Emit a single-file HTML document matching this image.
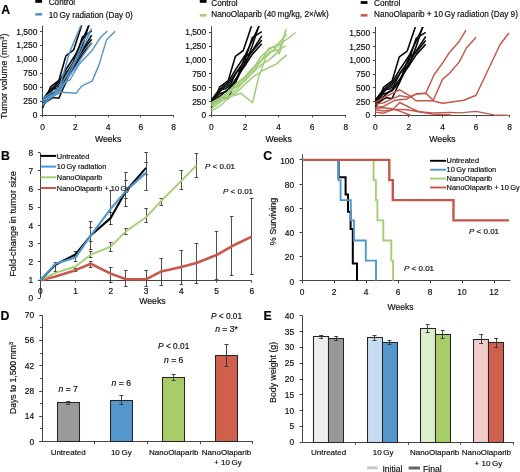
<!DOCTYPE html><html><head><meta charset="utf-8"><style>html,body{margin:0;padding:0;background:#fff;overflow:hidden}text{font-family:"Liberation Sans",sans-serif;stroke:#111;stroke-width:0.18px}</style></head><body><svg width="520" height="472" viewBox="0 0 520 472" style="display:block;filter:blur(0.4px);font-family:'Liberation Sans',sans-serif">
<rect width="520" height="472" fill="#fff"/>
<text x="1.20" y="13.60" font-size="12.3" text-anchor="start" font-weight="bold" font-style="normal" fill="#000" >A</text>
<text x="7.4" y="76.3" font-size="9.2" text-anchor="middle" fill="#111" transform="rotate(-90 7.4 76.3)">Tumor volume (mm<tspan font-size="5.8" dy="-3.2">3</tspan><tspan dy="3.2">)</tspan></text>
<clipPath id="clipA42"><rect x="40.5" y="25.5" width="140" height="92"/></clipPath>
<line x1="42.50" y1="115.40" x2="42.50" y2="25.50" stroke="#444" stroke-width="1"/>
<line x1="42.50" y1="115.50" x2="173.70" y2="115.50" stroke="#444" stroke-width="1"/>
<line x1="40.00" y1="115.50" x2="42.50" y2="115.50" stroke="#444" stroke-width="1"/>
<text x="37.30" y="118.40" font-size="8.4" text-anchor="end" font-weight="normal" font-style="normal" fill="#111" >0</text>
<line x1="40.00" y1="101.50" x2="42.50" y2="101.50" stroke="#444" stroke-width="1"/>
<text x="37.30" y="104.42" font-size="8.4" text-anchor="end" font-weight="normal" font-style="normal" fill="#111" >250</text>
<line x1="40.00" y1="87.50" x2="42.50" y2="87.50" stroke="#444" stroke-width="1"/>
<text x="37.30" y="90.43" font-size="8.4" text-anchor="end" font-weight="normal" font-style="normal" fill="#111" >500</text>
<line x1="40.00" y1="73.50" x2="42.50" y2="73.50" stroke="#444" stroke-width="1"/>
<text x="37.30" y="76.45" font-size="8.4" text-anchor="end" font-weight="normal" font-style="normal" fill="#111" >750</text>
<line x1="40.00" y1="59.50" x2="42.50" y2="59.50" stroke="#444" stroke-width="1"/>
<text x="37.30" y="62.47" font-size="8.4" text-anchor="end" font-weight="normal" font-style="normal" fill="#111" >1,000</text>
<line x1="40.00" y1="45.50" x2="42.50" y2="45.50" stroke="#444" stroke-width="1"/>
<text x="37.30" y="48.48" font-size="8.4" text-anchor="end" font-weight="normal" font-style="normal" fill="#111" >1,250</text>
<line x1="40.00" y1="31.50" x2="42.50" y2="31.50" stroke="#444" stroke-width="1"/>
<text x="37.30" y="34.50" font-size="8.4" text-anchor="end" font-weight="normal" font-style="normal" fill="#111" >1,500</text>
<line x1="42.50" y1="115.40" x2="42.50" y2="117.40" stroke="#444" stroke-width="1"/>
<text x="42.50" y="130.00" font-size="8.4" text-anchor="middle" font-weight="normal" font-style="normal" fill="#111" >0</text>
<line x1="75.50" y1="115.40" x2="75.50" y2="117.40" stroke="#444" stroke-width="1"/>
<text x="75.30" y="130.00" font-size="8.4" text-anchor="middle" font-weight="normal" font-style="normal" fill="#111" >2</text>
<line x1="108.50" y1="115.40" x2="108.50" y2="117.40" stroke="#444" stroke-width="1"/>
<text x="108.10" y="130.00" font-size="8.4" text-anchor="middle" font-weight="normal" font-style="normal" fill="#111" >4</text>
<line x1="140.50" y1="115.40" x2="140.50" y2="117.40" stroke="#444" stroke-width="1"/>
<text x="140.90" y="130.00" font-size="8.4" text-anchor="middle" font-weight="normal" font-style="normal" fill="#111" >6</text>
<line x1="173.50" y1="115.40" x2="173.50" y2="117.40" stroke="#444" stroke-width="1"/>
<text x="173.70" y="130.00" font-size="8.4" text-anchor="middle" font-weight="normal" font-style="normal" fill="#111" >8</text>
<text x="108.10" y="141.80" font-size="8.7" text-anchor="middle" font-weight="normal" font-style="normal" fill="#111" >Weeks</text>
<g clip-path="url(#clipA42)">
<polyline points="42.50,108.13 50.70,86.59 58.90,80.33 65.95,55.83 73.66,49.96 82.35,23.11" fill="none" stroke="#0a0a0a" stroke-width="1.6" stroke-linejoin="round" />
<polyline points="42.50,100.75 47.75,95.43 52.83,89.11 56.60,88.50 60.38,85.20 67.10,71.77 75.30,65.06 82.35,45.48 89.40,23.11" fill="none" stroke="#0a0a0a" stroke-width="1.6" stroke-linejoin="round" />
<polyline points="42.50,104.21 52.83,97.50 58.90,98.23 62.34,90.29 68.74,76.25 75.30,62.26 83.50,48.28 91.70,35.14" fill="none" stroke="#0a0a0a" stroke-width="1.6" stroke-linejoin="round" />
<polyline points="42.50,101.42 49.55,91.91 58.90,84.08 65.95,73.45 75.30,59.47 82.35,37.09 91.70,30.94" fill="none" stroke="#0a0a0a" stroke-width="1.6" stroke-linejoin="round" />
<polyline points="42.50,103.09 49.55,94.15 58.90,90.23 65.95,81.84 75.30,56.67 82.35,51.08 91.70,39.33" fill="none" stroke="#0a0a0a" stroke-width="1.6" stroke-linejoin="round" />
<polyline points="42.50,106.45 49.55,96.94 58.90,89.11 65.95,79.04 75.30,65.06 82.35,53.87 91.70,43.08" fill="none" stroke="#0a0a0a" stroke-width="1.6" stroke-linejoin="round" />
<polyline points="42.50,99.74 49.55,90.23 58.90,81.84 65.95,69.53 75.30,54.99 82.35,39.89 90.06,23.11" fill="none" stroke="#0a0a0a" stroke-width="1.6" stroke-linejoin="round" />
<polyline points="42.50,99.74 49.55,95.82 58.90,93.03 61.69,92.19 76.28,93.19 81.86,85.92 92.19,81.11 99.41,63.66 106.46,40.11 115.15,31.28" fill="none" stroke="#5393c8" stroke-width="1.4" stroke-linejoin="round" />
<polyline points="42.50,98.23 55.29,90.29 65.95,81.84 69.89,79.99 79.56,63.66 91.70,51.08 100.23,37.65 107.28,30.94" fill="none" stroke="#5393c8" stroke-width="1.4" stroke-linejoin="round" />
<polyline points="42.50,105.89 50.70,96.94 58.90,89.11 65.95,65.06 69.89,51.64 81.86,23.11" fill="none" stroke="#5393c8" stroke-width="1.4" stroke-linejoin="round" />
<polyline points="42.50,101.98 49.55,96.38 58.90,90.79 65.95,80.72 75.30,62.26 82.35,48.28 90.06,32.62" fill="none" stroke="#5393c8" stroke-width="1.4" stroke-linejoin="round" />
<polyline points="42.50,104.21 49.55,98.62 58.90,93.03 67.10,79.04 75.30,67.86 82.35,56.67 91.70,42.69" fill="none" stroke="#5393c8" stroke-width="1.4" stroke-linejoin="round" />
<polyline points="42.50,100.86 49.55,97.50 58.90,88.55 65.95,76.25 75.30,59.47 82.35,42.69 91.70,28.70" fill="none" stroke="#5393c8" stroke-width="1.4" stroke-linejoin="round" />
</g>
<rect x="35.3" y="0.0" width="6.8" height="2.8" fill="#000"/>
<text x="48.70" y="5.30" font-size="8.2" text-anchor="start" font-weight="normal" font-style="normal" fill="#111" >Control</text>
<rect x="35.3" y="13.1" width="6.8" height="2.5" fill="#5393c8"/>
<text x="48.70" y="17.60" font-size="8.2" text-anchor="start" font-weight="normal" font-style="normal" fill="#111" >10&#8201;Gy radiation (Day 0)</text>
<clipPath id="clipA211"><rect x="209.4" y="26.200000000000003" width="140" height="92"/></clipPath>
<line x1="211.50" y1="115.40" x2="211.50" y2="26.20" stroke="#444" stroke-width="1"/>
<line x1="211.40" y1="115.50" x2="345.80" y2="115.50" stroke="#444" stroke-width="1"/>
<line x1="208.90" y1="115.50" x2="211.40" y2="115.50" stroke="#444" stroke-width="1"/>
<text x="206.20" y="118.40" font-size="8.4" text-anchor="end" font-weight="normal" font-style="normal" fill="#111" >0</text>
<line x1="208.90" y1="101.50" x2="211.40" y2="101.50" stroke="#444" stroke-width="1"/>
<text x="206.20" y="104.53" font-size="8.4" text-anchor="end" font-weight="normal" font-style="normal" fill="#111" >250</text>
<line x1="208.90" y1="87.50" x2="211.40" y2="87.50" stroke="#444" stroke-width="1"/>
<text x="206.20" y="90.67" font-size="8.4" text-anchor="end" font-weight="normal" font-style="normal" fill="#111" >500</text>
<line x1="208.90" y1="73.50" x2="211.40" y2="73.50" stroke="#444" stroke-width="1"/>
<text x="206.20" y="76.80" font-size="8.4" text-anchor="end" font-weight="normal" font-style="normal" fill="#111" >750</text>
<line x1="208.90" y1="59.50" x2="211.40" y2="59.50" stroke="#444" stroke-width="1"/>
<text x="206.20" y="62.93" font-size="8.4" text-anchor="end" font-weight="normal" font-style="normal" fill="#111" >1,000</text>
<line x1="208.90" y1="46.50" x2="211.40" y2="46.50" stroke="#444" stroke-width="1"/>
<text x="206.20" y="49.07" font-size="8.4" text-anchor="end" font-weight="normal" font-style="normal" fill="#111" >1,250</text>
<line x1="208.90" y1="32.50" x2="211.40" y2="32.50" stroke="#444" stroke-width="1"/>
<text x="206.20" y="35.20" font-size="8.4" text-anchor="end" font-weight="normal" font-style="normal" fill="#111" >1,500</text>
<line x1="211.50" y1="115.40" x2="211.50" y2="117.40" stroke="#444" stroke-width="1"/>
<text x="211.40" y="130.00" font-size="8.4" text-anchor="middle" font-weight="normal" font-style="normal" fill="#111" >0</text>
<line x1="245.50" y1="115.40" x2="245.50" y2="117.40" stroke="#444" stroke-width="1"/>
<text x="245.00" y="130.00" font-size="8.4" text-anchor="middle" font-weight="normal" font-style="normal" fill="#111" >2</text>
<line x1="278.50" y1="115.40" x2="278.50" y2="117.40" stroke="#444" stroke-width="1"/>
<text x="278.60" y="130.00" font-size="8.4" text-anchor="middle" font-weight="normal" font-style="normal" fill="#111" >4</text>
<line x1="312.50" y1="115.40" x2="312.50" y2="117.40" stroke="#444" stroke-width="1"/>
<text x="312.20" y="130.00" font-size="8.4" text-anchor="middle" font-weight="normal" font-style="normal" fill="#111" >6</text>
<line x1="345.50" y1="115.40" x2="345.50" y2="117.40" stroke="#444" stroke-width="1"/>
<text x="345.80" y="130.00" font-size="8.4" text-anchor="middle" font-weight="normal" font-style="normal" fill="#111" >8</text>
<text x="278.60" y="141.80" font-size="8.7" text-anchor="middle" font-weight="normal" font-style="normal" fill="#111" >Weeks</text>
<g clip-path="url(#clipA211)">
<polyline points="211.40,108.19 219.80,86.83 228.20,80.62 235.42,56.33 243.32,50.50 252.22,23.88" fill="none" stroke="#0a0a0a" stroke-width="1.6" stroke-linejoin="round" />
<polyline points="211.40,100.87 216.78,95.60 221.98,89.33 225.85,88.72 229.71,85.45 236.60,72.14 245.00,65.48 252.22,46.07 259.45,23.88" fill="none" stroke="#0a0a0a" stroke-width="1.6" stroke-linejoin="round" />
<polyline points="211.40,104.31 221.98,97.65 228.20,98.37 231.73,90.50 238.28,76.57 245.00,62.71 253.40,48.84 261.80,35.81" fill="none" stroke="#0a0a0a" stroke-width="1.6" stroke-linejoin="round" />
<polyline points="211.40,101.53 218.62,92.10 228.20,84.34 235.42,73.80 245.00,59.93 252.22,37.75 261.80,31.65" fill="none" stroke="#0a0a0a" stroke-width="1.6" stroke-linejoin="round" />
<polyline points="211.40,103.20 218.62,94.32 228.20,90.44 235.42,82.12 245.00,57.16 252.22,51.61 261.80,39.97" fill="none" stroke="#0a0a0a" stroke-width="1.6" stroke-linejoin="round" />
<polyline points="211.40,106.53 218.62,97.10 228.20,89.33 235.42,79.35 245.00,65.48 252.22,54.39 261.80,43.68" fill="none" stroke="#0a0a0a" stroke-width="1.6" stroke-linejoin="round" />
<polyline points="211.40,99.87 218.62,90.44 228.20,82.12 235.42,69.92 245.00,55.50 252.22,40.52 260.12,23.88" fill="none" stroke="#0a0a0a" stroke-width="1.6" stroke-linejoin="round" />
<polyline points="211.40,104.03 219.80,99.31 228.20,96.54 233.24,95.76 240.97,93.32 252.56,102.75 258.44,78.07 265.66,57.44 276.58,46.79 295.74,32.48" fill="none" stroke="#a2cd78" stroke-width="1.5" stroke-linejoin="round" />
<polyline points="211.40,106.36 219.80,100.98 229.38,90.11 235.26,87.61 245.00,81.01 253.40,71.03 261.80,59.93 268.52,48.56 273.90,46.79 279.27,53.94 285.66,30.65" fill="none" stroke="#a2cd78" stroke-width="1.5" stroke-linejoin="round" />
<polyline points="211.40,111.02 219.80,105.97 228.20,98.76 236.60,92.10 245.00,84.34 253.40,76.57 261.80,71.03 276.58,63.82 286.66,54.83" fill="none" stroke="#a2cd78" stroke-width="1.5" stroke-linejoin="round" />
<polyline points="211.40,102.64 218.62,98.76 228.20,92.10 235.42,84.34 245.00,76.57 252.22,68.25 261.80,59.93 270.20,51.61 278.60,49.95 285.66,45.90" fill="none" stroke="#a2cd78" stroke-width="1.5" stroke-linejoin="round" />
<polyline points="211.40,105.42 218.62,100.42 228.20,94.32 235.42,86.56 245.00,77.68 252.22,69.92 261.80,55.50 270.20,48.84 278.60,43.29 286.66,34.25" fill="none" stroke="#a2cd78" stroke-width="1.5" stroke-linejoin="round" />
<polyline points="211.40,108.74 218.62,103.20 228.20,97.10 235.42,90.44 245.00,79.90 252.22,73.25 261.80,64.37 269.02,59.93 278.60,51.61 286.33,29.15" fill="none" stroke="#a2cd78" stroke-width="1.5" stroke-linejoin="round" />
</g>
<rect x="199.8" y="0.0" width="6.8" height="2.8" fill="#000"/>
<text x="211.30" y="5.60" font-size="8.2" text-anchor="start" font-weight="normal" font-style="normal" fill="#111" >Control</text>
<rect x="199.8" y="14.1" width="6.8" height="2.5" fill="#a2cd78"/>
<text x="211.30" y="17.30" font-size="8.2" text-anchor="start" font-weight="normal" font-style="normal" fill="#111" >NanoOlaparib (40&#8201;mg/kg, 2×/wk)</text>
<clipPath id="clipA375"><rect x="373.3" y="26.9" width="140" height="92"/></clipPath>
<line x1="375.50" y1="115.40" x2="375.50" y2="26.90" stroke="#444" stroke-width="1"/>
<line x1="375.30" y1="115.50" x2="509.70" y2="115.50" stroke="#444" stroke-width="1"/>
<line x1="372.80" y1="115.50" x2="375.30" y2="115.50" stroke="#444" stroke-width="1"/>
<text x="370.10" y="118.40" font-size="8.4" text-anchor="end" font-weight="normal" font-style="normal" fill="#111" >0</text>
<line x1="372.80" y1="101.50" x2="375.30" y2="101.50" stroke="#444" stroke-width="1"/>
<text x="370.10" y="104.65" font-size="8.4" text-anchor="end" font-weight="normal" font-style="normal" fill="#111" >250</text>
<line x1="372.80" y1="87.50" x2="375.30" y2="87.50" stroke="#444" stroke-width="1"/>
<text x="370.10" y="90.90" font-size="8.4" text-anchor="end" font-weight="normal" font-style="normal" fill="#111" >500</text>
<line x1="372.80" y1="74.50" x2="375.30" y2="74.50" stroke="#444" stroke-width="1"/>
<text x="370.10" y="77.15" font-size="8.4" text-anchor="end" font-weight="normal" font-style="normal" fill="#111" >750</text>
<line x1="372.80" y1="60.50" x2="375.30" y2="60.50" stroke="#444" stroke-width="1"/>
<text x="370.10" y="63.40" font-size="8.4" text-anchor="end" font-weight="normal" font-style="normal" fill="#111" >1,000</text>
<line x1="372.80" y1="46.50" x2="375.30" y2="46.50" stroke="#444" stroke-width="1"/>
<text x="370.10" y="49.65" font-size="8.4" text-anchor="end" font-weight="normal" font-style="normal" fill="#111" >1,250</text>
<line x1="372.80" y1="32.50" x2="375.30" y2="32.50" stroke="#444" stroke-width="1"/>
<text x="370.10" y="35.90" font-size="8.4" text-anchor="end" font-weight="normal" font-style="normal" fill="#111" >1,500</text>
<line x1="375.50" y1="115.40" x2="375.50" y2="117.40" stroke="#444" stroke-width="1"/>
<text x="375.30" y="130.00" font-size="8.4" text-anchor="middle" font-weight="normal" font-style="normal" fill="#111" >0</text>
<line x1="408.50" y1="115.40" x2="408.50" y2="117.40" stroke="#444" stroke-width="1"/>
<text x="408.90" y="130.00" font-size="8.4" text-anchor="middle" font-weight="normal" font-style="normal" fill="#111" >2</text>
<line x1="442.50" y1="115.40" x2="442.50" y2="117.40" stroke="#444" stroke-width="1"/>
<text x="442.50" y="130.00" font-size="8.4" text-anchor="middle" font-weight="normal" font-style="normal" fill="#111" >4</text>
<line x1="476.50" y1="115.40" x2="476.50" y2="117.40" stroke="#444" stroke-width="1"/>
<text x="476.10" y="130.00" font-size="8.4" text-anchor="middle" font-weight="normal" font-style="normal" fill="#111" >6</text>
<line x1="509.50" y1="115.40" x2="509.50" y2="117.40" stroke="#444" stroke-width="1"/>
<text x="509.70" y="130.00" font-size="8.4" text-anchor="middle" font-weight="normal" font-style="normal" fill="#111" >8</text>
<text x="442.50" y="141.80" font-size="8.7" text-anchor="middle" font-weight="normal" font-style="normal" fill="#111" >Weeks</text>
<g clip-path="url(#clipA375)">
<polyline points="375.30,108.25 383.70,87.08 392.10,80.92 399.32,56.83 407.22,51.05 416.12,24.65" fill="none" stroke="#0a0a0a" stroke-width="1.6" stroke-linejoin="round" />
<polyline points="375.30,100.99 380.68,95.77 385.88,89.55 389.75,88.95 393.61,85.70 400.50,72.50 408.90,65.90 416.12,46.65 423.35,24.65" fill="none" stroke="#0a0a0a" stroke-width="1.6" stroke-linejoin="round" />
<polyline points="375.30,104.40 385.88,97.80 392.10,98.52 395.63,90.71 402.18,76.90 408.90,63.15 417.30,49.40 425.70,36.48" fill="none" stroke="#0a0a0a" stroke-width="1.6" stroke-linejoin="round" />
<polyline points="375.30,101.65 382.52,92.30 392.10,84.60 399.32,74.15 408.90,60.40 416.12,38.40 425.70,32.35" fill="none" stroke="#0a0a0a" stroke-width="1.6" stroke-linejoin="round" />
<polyline points="375.30,103.30 382.52,94.50 392.10,90.65 399.32,82.40 408.90,57.65 416.12,52.15 425.70,40.60" fill="none" stroke="#0a0a0a" stroke-width="1.6" stroke-linejoin="round" />
<polyline points="375.30,106.60 382.52,97.25 392.10,89.55 399.32,79.65 408.90,65.90 416.12,54.90 425.70,44.29" fill="none" stroke="#0a0a0a" stroke-width="1.6" stroke-linejoin="round" />
<polyline points="375.30,100.00 382.52,90.65 392.10,82.40 399.32,70.30 408.90,56.00 416.12,41.15 424.02,24.65" fill="none" stroke="#0a0a0a" stroke-width="1.6" stroke-linejoin="round" />
<polyline points="375.30,107.15 383.36,106.44 395.29,100.17 407.05,98.96 416.46,93.84 425.70,93.24 434.10,74.75 442.50,63.15 449.72,52.15 459.30,41.15 466.02,30.15" fill="none" stroke="#c4564b" stroke-width="1.45" stroke-linejoin="round" />
<polyline points="375.30,104.40 383.70,102.75 392.10,98.90 399.66,95.60 408.90,97.25 416.46,93.95 425.70,93.24 433.26,100.28 442.50,79.38 449.72,73.05 459.30,61.89 466.52,47.75 476.10,37.14" fill="none" stroke="#c4564b" stroke-width="1.45" stroke-linejoin="round" />
<polyline points="375.30,102.48 385.72,96.70 399.66,89.77 411.08,96.70 415.79,100.77 432.42,100.77 442.84,103.25 463.84,100.22 476.10,95.22 499.96,44.73 508.86,33.01" fill="none" stroke="#c4564b" stroke-width="1.45" stroke-linejoin="round" />
<polyline points="375.30,109.79 383.70,111.00 395.29,109.35 407.05,109.79 418.98,111.72 432.42,112.87 449.72,112.38 459.97,112.87 476.10,111.39 493.91,114.91 508.86,115.40" fill="none" stroke="#c4564b" stroke-width="1.45" stroke-linejoin="round" />
<polyline points="375.30,112.10 383.70,113.20 392.10,109.90 399.66,102.48 411.08,108.09 418.98,111.72 432.42,114.03 450.90,114.85" fill="none" stroke="#c4564b" stroke-width="1.45" stroke-linejoin="round" />
<polyline points="375.30,108.25 383.70,107.70 392.10,108.80 399.66,111.17 407.05,113.97 411.08,115.40" fill="none" stroke="#c4564b" stroke-width="1.45" stroke-linejoin="round" />
</g>
<rect x="360.7" y="1.1" width="6.8" height="2.8" fill="#000"/>
<text x="374.00" y="6.20" font-size="8.2" text-anchor="start" font-weight="normal" font-style="normal" fill="#111" >Control</text>
<rect x="360.7" y="14.1" width="6.8" height="2.5" fill="#c4564b"/>
<text x="374.00" y="17.30" font-size="8.2" text-anchor="start" font-weight="normal" font-style="normal" fill="#111" >NanoOlaparib + 10&#8201;Gy radiation (Day 9)</text>
<text x="1.00" y="159.60" font-size="12.3" text-anchor="start" font-weight="bold" font-style="normal" fill="#000" >B</text>
<line x1="40.50" y1="297.80" x2="40.50" y2="153.00" stroke="#444" stroke-width="1"/>
<line x1="37.80" y1="298.50" x2="40.30" y2="298.50" stroke="#444" stroke-width="1"/>
<text x="30.90" y="301.43" font-size="8.4" text-anchor="middle" font-weight="normal" font-style="normal" fill="#111" >0</text>
<line x1="37.80" y1="280.50" x2="40.30" y2="280.50" stroke="#444" stroke-width="1"/>
<text x="30.90" y="283.20" font-size="8.4" text-anchor="middle" font-weight="normal" font-style="normal" fill="#111" >1</text>
<line x1="37.80" y1="261.50" x2="40.30" y2="261.50" stroke="#444" stroke-width="1"/>
<text x="30.90" y="264.97" font-size="8.4" text-anchor="middle" font-weight="normal" font-style="normal" fill="#111" >2</text>
<line x1="37.80" y1="243.50" x2="40.30" y2="243.50" stroke="#444" stroke-width="1"/>
<text x="30.90" y="246.74" font-size="8.4" text-anchor="middle" font-weight="normal" font-style="normal" fill="#111" >3</text>
<line x1="37.80" y1="225.50" x2="40.30" y2="225.50" stroke="#444" stroke-width="1"/>
<text x="30.90" y="228.51" font-size="8.4" text-anchor="middle" font-weight="normal" font-style="normal" fill="#111" >4</text>
<line x1="37.80" y1="207.50" x2="40.30" y2="207.50" stroke="#444" stroke-width="1"/>
<text x="30.90" y="210.28" font-size="8.4" text-anchor="middle" font-weight="normal" font-style="normal" fill="#111" >5</text>
<line x1="37.80" y1="189.50" x2="40.30" y2="189.50" stroke="#444" stroke-width="1"/>
<text x="30.90" y="192.05" font-size="8.4" text-anchor="middle" font-weight="normal" font-style="normal" fill="#111" >6</text>
<line x1="37.80" y1="170.50" x2="40.30" y2="170.50" stroke="#444" stroke-width="1"/>
<text x="30.90" y="173.82" font-size="8.4" text-anchor="middle" font-weight="normal" font-style="normal" fill="#111" >7</text>
<line x1="37.80" y1="152.50" x2="40.30" y2="152.50" stroke="#444" stroke-width="1"/>
<text x="30.90" y="155.59" font-size="8.4" text-anchor="middle" font-weight="normal" font-style="normal" fill="#111" >8</text>
<line x1="40.30" y1="280.50" x2="251.80" y2="280.50" stroke="#444" stroke-width="1"/>
<line x1="40.50" y1="280.20" x2="40.50" y2="282.70" stroke="#444" stroke-width="1"/>
<text x="40.30" y="294.40" font-size="8.4" text-anchor="middle" font-weight="normal" font-style="normal" fill="#111" >0</text>
<line x1="75.50" y1="280.20" x2="75.50" y2="282.70" stroke="#444" stroke-width="1"/>
<text x="75.55" y="294.40" font-size="8.4" text-anchor="middle" font-weight="normal" font-style="normal" fill="#111" >1</text>
<line x1="110.50" y1="280.20" x2="110.50" y2="282.70" stroke="#444" stroke-width="1"/>
<text x="110.80" y="294.40" font-size="8.4" text-anchor="middle" font-weight="normal" font-style="normal" fill="#111" >2</text>
<line x1="146.50" y1="280.20" x2="146.50" y2="282.70" stroke="#444" stroke-width="1"/>
<text x="146.05" y="294.40" font-size="8.4" text-anchor="middle" font-weight="normal" font-style="normal" fill="#111" >3</text>
<line x1="181.50" y1="280.20" x2="181.50" y2="282.70" stroke="#444" stroke-width="1"/>
<text x="181.30" y="294.40" font-size="8.4" text-anchor="middle" font-weight="normal" font-style="normal" fill="#111" >4</text>
<line x1="216.50" y1="280.20" x2="216.50" y2="282.70" stroke="#444" stroke-width="1"/>
<text x="216.55" y="294.40" font-size="8.4" text-anchor="middle" font-weight="normal" font-style="normal" fill="#111" >5</text>
<line x1="251.50" y1="280.20" x2="251.50" y2="282.70" stroke="#444" stroke-width="1"/>
<text x="251.80" y="294.40" font-size="8.4" text-anchor="middle" font-weight="normal" font-style="normal" fill="#111" >6</text>
<text x="152.40" y="304.10" font-size="8.7" text-anchor="middle" font-weight="normal" font-style="normal" fill="#111" >Weeks</text>
<text x="15.8" y="224" font-size="9.2" text-anchor="middle" fill="#111" transform="rotate(-90 15.8 224)">Fold-change in tumor size</text>
<line x1="75.50" y1="268.35" x2="75.50" y2="272.00" stroke="#3a3a3a" stroke-width="0.9"/>
<line x1="73.75" y1="268.50" x2="77.35" y2="268.50" stroke="#3a3a3a" stroke-width="0.9"/>
<line x1="73.75" y1="271.50" x2="77.35" y2="271.50" stroke="#3a3a3a" stroke-width="0.9"/>
<line x1="90.50" y1="261.06" x2="90.50" y2="267.80" stroke="#3a3a3a" stroke-width="0.9"/>
<line x1="88.91" y1="261.50" x2="92.51" y2="261.50" stroke="#3a3a3a" stroke-width="0.9"/>
<line x1="88.91" y1="267.50" x2="92.51" y2="267.50" stroke="#3a3a3a" stroke-width="0.9"/>
<line x1="110.50" y1="267.07" x2="110.50" y2="282.02" stroke="#3a3a3a" stroke-width="0.9"/>
<line x1="109.00" y1="267.50" x2="112.60" y2="267.50" stroke="#3a3a3a" stroke-width="0.9"/>
<line x1="109.00" y1="282.50" x2="112.60" y2="282.50" stroke="#3a3a3a" stroke-width="0.9"/>
<line x1="125.50" y1="270.17" x2="125.50" y2="286.95" stroke="#3a3a3a" stroke-width="0.9"/>
<line x1="124.16" y1="270.50" x2="127.76" y2="270.50" stroke="#3a3a3a" stroke-width="0.9"/>
<line x1="124.16" y1="286.50" x2="127.76" y2="286.50" stroke="#3a3a3a" stroke-width="0.9"/>
<line x1="146.50" y1="270.17" x2="146.50" y2="286.95" stroke="#3a3a3a" stroke-width="0.9"/>
<line x1="144.25" y1="270.50" x2="147.85" y2="270.50" stroke="#3a3a3a" stroke-width="0.9"/>
<line x1="144.25" y1="286.50" x2="147.85" y2="286.50" stroke="#3a3a3a" stroke-width="0.9"/>
<line x1="161.50" y1="258.69" x2="161.50" y2="285.67" stroke="#3a3a3a" stroke-width="0.9"/>
<line x1="159.41" y1="258.50" x2="163.01" y2="258.50" stroke="#3a3a3a" stroke-width="0.9"/>
<line x1="159.41" y1="285.50" x2="163.01" y2="285.50" stroke="#3a3a3a" stroke-width="0.9"/>
<line x1="181.50" y1="250.49" x2="181.50" y2="284.76" stroke="#3a3a3a" stroke-width="0.9"/>
<line x1="179.50" y1="250.50" x2="183.10" y2="250.50" stroke="#3a3a3a" stroke-width="0.9"/>
<line x1="179.50" y1="284.50" x2="183.10" y2="284.50" stroke="#3a3a3a" stroke-width="0.9"/>
<line x1="196.50" y1="243.74" x2="196.50" y2="283.85" stroke="#3a3a3a" stroke-width="0.9"/>
<line x1="194.66" y1="243.50" x2="198.26" y2="243.50" stroke="#3a3a3a" stroke-width="0.9"/>
<line x1="194.66" y1="283.50" x2="198.26" y2="283.50" stroke="#3a3a3a" stroke-width="0.9"/>
<line x1="216.50" y1="231.34" x2="216.50" y2="279.29" stroke="#3a3a3a" stroke-width="0.9"/>
<line x1="214.75" y1="231.50" x2="218.35" y2="231.50" stroke="#3a3a3a" stroke-width="0.9"/>
<line x1="214.75" y1="279.50" x2="218.35" y2="279.50" stroke="#3a3a3a" stroke-width="0.9"/>
<line x1="231.50" y1="216.76" x2="231.50" y2="275.64" stroke="#3a3a3a" stroke-width="0.9"/>
<line x1="229.91" y1="216.50" x2="233.51" y2="216.50" stroke="#3a3a3a" stroke-width="0.9"/>
<line x1="229.91" y1="275.50" x2="233.51" y2="275.50" stroke="#3a3a3a" stroke-width="0.9"/>
<line x1="251.50" y1="198.35" x2="251.50" y2="274.73" stroke="#3a3a3a" stroke-width="0.9"/>
<line x1="250.00" y1="198.50" x2="253.60" y2="198.50" stroke="#3a3a3a" stroke-width="0.9"/>
<line x1="250.00" y1="274.50" x2="253.60" y2="274.50" stroke="#3a3a3a" stroke-width="0.9"/>
<line x1="90.50" y1="251.94" x2="90.50" y2="257.41" stroke="#3a3a3a" stroke-width="0.9"/>
<line x1="88.91" y1="251.50" x2="92.51" y2="251.50" stroke="#3a3a3a" stroke-width="0.9"/>
<line x1="88.91" y1="257.50" x2="92.51" y2="257.50" stroke="#3a3a3a" stroke-width="0.9"/>
<line x1="110.50" y1="242.28" x2="110.50" y2="251.03" stroke="#3a3a3a" stroke-width="0.9"/>
<line x1="109.00" y1="242.50" x2="112.60" y2="242.50" stroke="#3a3a3a" stroke-width="0.9"/>
<line x1="109.00" y1="251.50" x2="112.60" y2="251.50" stroke="#3a3a3a" stroke-width="0.9"/>
<line x1="125.50" y1="228.24" x2="125.50" y2="234.62" stroke="#3a3a3a" stroke-width="0.9"/>
<line x1="124.16" y1="228.50" x2="127.76" y2="228.50" stroke="#3a3a3a" stroke-width="0.9"/>
<line x1="124.16" y1="234.50" x2="127.76" y2="234.50" stroke="#3a3a3a" stroke-width="0.9"/>
<line x1="146.50" y1="208.74" x2="146.50" y2="222.78" stroke="#3a3a3a" stroke-width="0.9"/>
<line x1="144.25" y1="208.50" x2="147.85" y2="208.50" stroke="#3a3a3a" stroke-width="0.9"/>
<line x1="144.25" y1="222.50" x2="147.85" y2="222.50" stroke="#3a3a3a" stroke-width="0.9"/>
<line x1="161.50" y1="198.16" x2="161.50" y2="205.46" stroke="#3a3a3a" stroke-width="0.9"/>
<line x1="159.41" y1="198.50" x2="163.01" y2="198.50" stroke="#3a3a3a" stroke-width="0.9"/>
<line x1="159.41" y1="205.50" x2="163.01" y2="205.50" stroke="#3a3a3a" stroke-width="0.9"/>
<line x1="181.50" y1="170.82" x2="181.50" y2="189.05" stroke="#3a3a3a" stroke-width="0.9"/>
<line x1="179.50" y1="170.50" x2="183.10" y2="170.50" stroke="#3a3a3a" stroke-width="0.9"/>
<line x1="179.50" y1="189.50" x2="183.10" y2="189.50" stroke="#3a3a3a" stroke-width="0.9"/>
<line x1="196.50" y1="153.32" x2="196.50" y2="177.02" stroke="#3a3a3a" stroke-width="0.9"/>
<line x1="194.66" y1="153.50" x2="198.26" y2="153.50" stroke="#3a3a3a" stroke-width="0.9"/>
<line x1="194.66" y1="177.50" x2="198.26" y2="177.50" stroke="#3a3a3a" stroke-width="0.9"/>
<line x1="55.50" y1="262.88" x2="55.50" y2="272.00" stroke="#3a3a3a" stroke-width="0.9"/>
<line x1="53.66" y1="262.50" x2="57.26" y2="262.50" stroke="#3a3a3a" stroke-width="0.9"/>
<line x1="53.66" y1="271.50" x2="57.26" y2="271.50" stroke="#3a3a3a" stroke-width="0.9"/>
<line x1="75.50" y1="251.03" x2="75.50" y2="261.97" stroke="#3a3a3a" stroke-width="0.9"/>
<line x1="73.75" y1="251.50" x2="77.35" y2="251.50" stroke="#3a3a3a" stroke-width="0.9"/>
<line x1="73.75" y1="261.50" x2="77.35" y2="261.50" stroke="#3a3a3a" stroke-width="0.9"/>
<line x1="90.50" y1="221.86" x2="90.50" y2="249.21" stroke="#3a3a3a" stroke-width="0.9"/>
<line x1="88.91" y1="221.50" x2="92.51" y2="221.50" stroke="#3a3a3a" stroke-width="0.9"/>
<line x1="88.91" y1="249.50" x2="92.51" y2="249.50" stroke="#3a3a3a" stroke-width="0.9"/>
<line x1="110.50" y1="190.87" x2="110.50" y2="224.60" stroke="#3a3a3a" stroke-width="0.9"/>
<line x1="109.00" y1="190.50" x2="112.60" y2="190.50" stroke="#3a3a3a" stroke-width="0.9"/>
<line x1="109.00" y1="224.50" x2="112.60" y2="224.50" stroke="#3a3a3a" stroke-width="0.9"/>
<line x1="125.50" y1="172.64" x2="125.50" y2="206.55" stroke="#3a3a3a" stroke-width="0.9"/>
<line x1="124.16" y1="172.50" x2="127.76" y2="172.50" stroke="#3a3a3a" stroke-width="0.9"/>
<line x1="124.16" y1="206.50" x2="127.76" y2="206.50" stroke="#3a3a3a" stroke-width="0.9"/>
<line x1="146.50" y1="152.59" x2="146.50" y2="190.14" stroke="#3a3a3a" stroke-width="0.9"/>
<line x1="144.25" y1="152.50" x2="147.85" y2="152.50" stroke="#3a3a3a" stroke-width="0.9"/>
<line x1="144.25" y1="190.50" x2="147.85" y2="190.50" stroke="#3a3a3a" stroke-width="0.9"/>
<line x1="109.00" y1="212.50" x2="112.60" y2="212.50" stroke="#3a3a3a" stroke-width="0.9"/>
<line x1="124.16" y1="180.50" x2="127.76" y2="180.50" stroke="#3a3a3a" stroke-width="0.9"/>
<line x1="124.16" y1="198.50" x2="127.76" y2="198.50" stroke="#3a3a3a" stroke-width="0.9"/>
<line x1="144.25" y1="162.50" x2="147.85" y2="162.50" stroke="#3a3a3a" stroke-width="0.9"/>
<line x1="144.25" y1="174.50" x2="147.85" y2="174.50" stroke="#3a3a3a" stroke-width="0.9"/>
<line x1="88.91" y1="241.50" x2="92.51" y2="241.50" stroke="#3a3a3a" stroke-width="0.9"/>
<line x1="88.91" y1="227.50" x2="92.51" y2="227.50" stroke="#3a3a3a" stroke-width="0.9"/>
<line x1="73.75" y1="256.50" x2="77.35" y2="256.50" stroke="#3a3a3a" stroke-width="0.9"/>
<polyline points="40.30,280.20 55.46,276.55 75.55,270.17 90.71,263.79 110.80,273.64 125.96,279.29 146.05,279.29 161.21,271.45 181.30,267.07 196.46,263.06 216.55,255.04 231.71,246.29 251.80,236.63" fill="none" stroke="#c9574a" stroke-width="2.6" stroke-linejoin="round" />
<polyline points="40.30,280.20 55.46,272.91 75.55,266.53 90.71,254.68 110.80,246.66 125.96,231.34 146.05,217.31 161.21,200.90 181.30,180.85 196.46,165.35" fill="none" stroke="#a3cf72" stroke-width="1.9" stroke-linejoin="round" />
<polyline points="40.30,280.20 55.46,264.70 75.55,254.31 90.71,235.54 110.80,217.85 125.96,190.87 146.05,167.90" fill="none" stroke="#000" stroke-width="2.1" stroke-linejoin="round" />
<polyline points="40.30,280.20 55.46,263.79 75.55,257.41 90.71,235.54 110.80,208.74 125.96,190.87 146.05,172.64" fill="none" stroke="#4f97cf" stroke-width="2.1" stroke-linejoin="round" />
<line x1="40.60" y1="155.90" x2="56.20" y2="155.90" stroke="#000" stroke-width="2.0"/>
<text x="56.80" y="158.60" font-size="7.4" text-anchor="start" font-weight="normal" font-style="normal" fill="#111" >Untreated</text>
<line x1="40.60" y1="166.60" x2="56.20" y2="166.60" stroke="#4f97cf" stroke-width="2.0"/>
<text x="56.80" y="169.30" font-size="7.4" text-anchor="start" font-weight="normal" font-style="normal" fill="#111" >10&#8201;Gy radiation</text>
<line x1="40.60" y1="177.30" x2="56.20" y2="177.30" stroke="#a3cf72" stroke-width="2.0"/>
<text x="56.80" y="180.00" font-size="7.4" text-anchor="start" font-weight="normal" font-style="normal" fill="#111" >NanoOlaparib</text>
<line x1="40.60" y1="188.00" x2="56.20" y2="188.00" stroke="#c9574a" stroke-width="2.0"/>
<text x="56.80" y="190.70" font-size="7.4" text-anchor="start" font-weight="normal" font-style="normal" fill="#111" >NanoOlaparib + 10&#8201;Gy</text>
<text x="205.00" y="169.00" font-size="8.0" text-anchor="start" font-weight="normal" font-style="normal" fill="#111" ><tspan font-style="italic">P</tspan> &lt; 0.01</text>
<text x="223.00" y="193.80" font-size="8.0" text-anchor="start" font-weight="normal" font-style="normal" fill="#111" ><tspan font-style="italic">P</tspan> &lt; 0.01</text>
<text x="263.20" y="160.20" font-size="12.3" text-anchor="start" font-weight="bold" font-style="normal" fill="#000" >C</text>
<line x1="302.50" y1="280.80" x2="302.50" y2="154.30" stroke="#444" stroke-width="1"/>
<line x1="299.50" y1="280.50" x2="302.00" y2="280.50" stroke="#444" stroke-width="1"/>
<text x="294.20" y="284.60" font-size="8.4" text-anchor="end" font-weight="normal" font-style="normal" fill="#111" >0</text>
<line x1="299.50" y1="256.50" x2="302.00" y2="256.50" stroke="#444" stroke-width="1"/>
<text x="294.20" y="260.42" font-size="8.4" text-anchor="end" font-weight="normal" font-style="normal" fill="#111" >20</text>
<line x1="299.50" y1="232.50" x2="302.00" y2="232.50" stroke="#444" stroke-width="1"/>
<text x="294.20" y="236.24" font-size="8.4" text-anchor="end" font-weight="normal" font-style="normal" fill="#111" >40</text>
<line x1="299.50" y1="208.50" x2="302.00" y2="208.50" stroke="#444" stroke-width="1"/>
<text x="294.20" y="212.06" font-size="8.4" text-anchor="end" font-weight="normal" font-style="normal" fill="#111" >60</text>
<line x1="299.50" y1="184.50" x2="302.00" y2="184.50" stroke="#444" stroke-width="1"/>
<text x="294.20" y="187.88" font-size="8.4" text-anchor="end" font-weight="normal" font-style="normal" fill="#111" >80</text>
<line x1="299.50" y1="159.50" x2="302.00" y2="159.50" stroke="#444" stroke-width="1"/>
<text x="294.20" y="163.70" font-size="8.4" text-anchor="end" font-weight="normal" font-style="normal" fill="#111" >100</text>
<line x1="302.00" y1="280.50" x2="510.50" y2="280.50" stroke="#444" stroke-width="1"/>
<line x1="302.50" y1="280.80" x2="302.50" y2="283.30" stroke="#444" stroke-width="1"/>
<text x="302.00" y="294.90" font-size="8.4" text-anchor="middle" font-weight="normal" font-style="normal" fill="#111" >0</text>
<line x1="334.50" y1="280.80" x2="334.50" y2="283.30" stroke="#444" stroke-width="1"/>
<text x="334.00" y="294.90" font-size="8.4" text-anchor="middle" font-weight="normal" font-style="normal" fill="#111" >2</text>
<line x1="366.50" y1="280.80" x2="366.50" y2="283.30" stroke="#444" stroke-width="1"/>
<text x="366.00" y="294.90" font-size="8.4" text-anchor="middle" font-weight="normal" font-style="normal" fill="#111" >4</text>
<line x1="398.50" y1="280.80" x2="398.50" y2="283.30" stroke="#444" stroke-width="1"/>
<text x="398.00" y="294.90" font-size="8.4" text-anchor="middle" font-weight="normal" font-style="normal" fill="#111" >6</text>
<line x1="430.50" y1="280.80" x2="430.50" y2="283.30" stroke="#444" stroke-width="1"/>
<text x="430.00" y="294.90" font-size="8.4" text-anchor="middle" font-weight="normal" font-style="normal" fill="#111" >8</text>
<line x1="462.50" y1="280.80" x2="462.50" y2="283.30" stroke="#444" stroke-width="1"/>
<text x="462.00" y="294.90" font-size="8.4" text-anchor="middle" font-weight="normal" font-style="normal" fill="#111" >10</text>
<line x1="494.50" y1="280.80" x2="494.50" y2="283.30" stroke="#444" stroke-width="1"/>
<text x="494.00" y="294.90" font-size="8.4" text-anchor="middle" font-weight="normal" font-style="normal" fill="#111" >12</text>
<text x="400.50" y="309.50" font-size="8.6" text-anchor="middle" font-weight="normal" font-style="normal" fill="#111" >Weeks</text>
<text x="275.6" y="221.4" font-size="9" text-anchor="middle" fill="#111" transform="rotate(-90 275.6 221.4)">% Surviving</text>
<path d="M302.0,159.90 H373.6 V180.09 H375.9 V200.16 H377.4 V220.35 H383.3 V240.54 H391.3 V260.61 H393.1 V280.8" fill="none" stroke="#a3cf72" stroke-width="1.9"/>
<path d="M302.0,159.90 H338.6 V177.19 H345.6 V194.48 H348 V211.77 H350.6 V228.93 H352.8 V263.51 H357 V280.8" fill="none" stroke="#000" stroke-width="2.0"/>
<path d="M302.0,159.90 H338.4 V180.09 H340.6 V200.16 H350.8 V220.35 H354 V240.54 H365.8 V260.61 H376 V280.8" fill="none" stroke="#4f97cf" stroke-width="1.9"/>
<path d="M302.0,159.90 H389.3 V180.09 H392.8 V200.16 H453.5 V220.35 H508.9" fill="none" stroke="#c2584c" stroke-width="2.4"/>
<line x1="430.00" y1="160.80" x2="446.20" y2="160.80" stroke="#000" stroke-width="1.9"/>
<text x="446.60" y="163.40" font-size="7.4" text-anchor="start" font-weight="normal" font-style="normal" fill="#111" >Untreated</text>
<line x1="430.00" y1="169.70" x2="446.20" y2="169.70" stroke="#4f97cf" stroke-width="1.9"/>
<text x="446.60" y="172.30" font-size="7.4" text-anchor="start" font-weight="normal" font-style="normal" fill="#111" >10&#8201;Gy radiation</text>
<line x1="430.00" y1="178.60" x2="446.20" y2="178.60" stroke="#a3cf72" stroke-width="1.9"/>
<text x="446.60" y="181.20" font-size="7.4" text-anchor="start" font-weight="normal" font-style="normal" fill="#111" >NanoOlaparib</text>
<line x1="430.00" y1="187.50" x2="446.20" y2="187.50" stroke="#c9574a" stroke-width="1.9"/>
<text x="446.60" y="190.10" font-size="7.4" text-anchor="start" font-weight="normal" font-style="normal" fill="#111" >NanoOlaparib + 10&#8201;Gy</text>
<text x="469.00" y="233.60" font-size="8.0" text-anchor="start" font-weight="normal" font-style="normal" fill="#111" ><tspan font-style="italic">P</tspan> &lt; 0.01</text>
<text x="404.00" y="270.80" font-size="8.0" text-anchor="start" font-weight="normal" font-style="normal" fill="#111" ><tspan font-style="italic">P</tspan> &lt; 0.01</text>
<text x="0.50" y="320.00" font-size="12.3" text-anchor="start" font-weight="bold" font-style="normal" fill="#000" >D</text>
<line x1="42.50" y1="441.60" x2="42.50" y2="315.10" stroke="#444" stroke-width="1"/>
<line x1="39.20" y1="441.50" x2="42.20" y2="441.50" stroke="#444" stroke-width="1"/>
<text x="34.20" y="444.60" font-size="8.4" text-anchor="end" font-weight="normal" font-style="normal" fill="#111" >0</text>
<line x1="40.20" y1="428.50" x2="42.20" y2="428.50" stroke="#444" stroke-width="1"/>
<line x1="39.20" y1="416.50" x2="42.20" y2="416.50" stroke="#444" stroke-width="1"/>
<text x="34.20" y="419.30" font-size="8.4" text-anchor="end" font-weight="normal" font-style="normal" fill="#111" >14</text>
<line x1="40.20" y1="403.50" x2="42.20" y2="403.50" stroke="#444" stroke-width="1"/>
<line x1="39.20" y1="391.50" x2="42.20" y2="391.50" stroke="#444" stroke-width="1"/>
<text x="34.20" y="394.00" font-size="8.4" text-anchor="end" font-weight="normal" font-style="normal" fill="#111" >28</text>
<line x1="40.20" y1="378.50" x2="42.20" y2="378.50" stroke="#444" stroke-width="1"/>
<line x1="39.20" y1="365.50" x2="42.20" y2="365.50" stroke="#444" stroke-width="1"/>
<text x="34.20" y="368.70" font-size="8.4" text-anchor="end" font-weight="normal" font-style="normal" fill="#111" >42</text>
<line x1="40.20" y1="353.50" x2="42.20" y2="353.50" stroke="#444" stroke-width="1"/>
<line x1="39.20" y1="340.50" x2="42.20" y2="340.50" stroke="#444" stroke-width="1"/>
<text x="34.20" y="343.40" font-size="8.4" text-anchor="end" font-weight="normal" font-style="normal" fill="#111" >56</text>
<line x1="40.20" y1="327.50" x2="42.20" y2="327.50" stroke="#444" stroke-width="1"/>
<line x1="39.20" y1="315.50" x2="42.20" y2="315.50" stroke="#444" stroke-width="1"/>
<text x="34.20" y="318.10" font-size="8.4" text-anchor="end" font-weight="normal" font-style="normal" fill="#111" >70</text>
<line x1="42.20" y1="441.50" x2="252.80" y2="441.50" stroke="#444" stroke-width="1"/>
<line x1="94.50" y1="441.60" x2="94.50" y2="444.10" stroke="#444" stroke-width="1"/>
<line x1="147.50" y1="441.60" x2="147.50" y2="444.10" stroke="#444" stroke-width="1"/>
<line x1="200.50" y1="441.60" x2="200.50" y2="444.10" stroke="#444" stroke-width="1"/>
<line x1="252.50" y1="441.60" x2="252.50" y2="444.10" stroke="#444" stroke-width="1"/>
<text x="16.4" y="378" font-size="8.6" text-anchor="middle" fill="#111" transform="rotate(-90 16.4 378)">Days to 1,500&#8201;mm<tspan font-size="5.5" dy="-3">3</tspan></text>
<rect x="57.50" y="402.50" width="22" height="39.00" fill="#9a9a9a" stroke="#262626" stroke-width="1.05"/>
<line x1="68.50" y1="401.66" x2="68.50" y2="404.19" stroke="#333" stroke-width="0.9"/>
<line x1="66.20" y1="401.50" x2="70.20" y2="401.50" stroke="#333" stroke-width="0.9"/>
<line x1="66.20" y1="404.50" x2="70.20" y2="404.50" stroke="#333" stroke-width="0.9"/>
<rect x="110.50" y="400.50" width="22" height="41.00" fill="#5497cc" stroke="#262626" stroke-width="1.05"/>
<line x1="121.50" y1="395.52" x2="121.50" y2="404.55" stroke="#333" stroke-width="0.9"/>
<line x1="119.30" y1="395.50" x2="123.30" y2="395.50" stroke="#333" stroke-width="0.9"/>
<line x1="119.30" y1="404.50" x2="123.30" y2="404.50" stroke="#333" stroke-width="0.9"/>
<rect x="162.50" y="377.50" width="22" height="64.00" fill="#a8cd68" stroke="#262626" stroke-width="1.05"/>
<line x1="173.50" y1="374.74" x2="173.50" y2="380.16" stroke="#333" stroke-width="0.9"/>
<line x1="171.70" y1="374.50" x2="175.70" y2="374.50" stroke="#333" stroke-width="0.9"/>
<line x1="171.70" y1="380.50" x2="175.70" y2="380.50" stroke="#333" stroke-width="0.9"/>
<rect x="215.50" y="355.50" width="22" height="86.00" fill="#d0604e" stroke="#262626" stroke-width="1.05"/>
<line x1="226.50" y1="344.01" x2="226.50" y2="366.60" stroke="#333" stroke-width="0.9"/>
<line x1="224.50" y1="344.50" x2="228.50" y2="344.50" stroke="#333" stroke-width="0.9"/>
<line x1="224.50" y1="366.50" x2="228.50" y2="366.50" stroke="#333" stroke-width="0.9"/>
<text x="68.20" y="392.30" font-size="8.6" text-anchor="middle" font-weight="normal" font-style="normal" fill="#111" ><tspan font-style="italic">n</tspan> = 7</text>
<text x="121.30" y="386.00" font-size="8.6" text-anchor="middle" font-weight="normal" font-style="normal" fill="#111" ><tspan font-style="italic">n</tspan> = 6</text>
<text x="173.70" y="363.00" font-size="8.6" text-anchor="middle" font-weight="normal" font-style="normal" fill="#111" ><tspan font-style="italic">n</tspan> = 6</text>
<text x="226.50" y="332.00" font-size="8.6" text-anchor="middle" font-weight="normal" font-style="normal" fill="#111" ><tspan font-style="italic">n</tspan> = 3*</text>
<text x="173.70" y="348.50" font-size="8.3" text-anchor="middle" font-weight="normal" font-style="normal" fill="#111" ><tspan font-style="italic">P</tspan> &lt; 0.01</text>
<text x="226.50" y="319.40" font-size="8.3" text-anchor="middle" font-weight="normal" font-style="normal" fill="#111" ><tspan font-style="italic">P</tspan> &lt; 0.01</text>
<text x="68.20" y="455.30" font-size="8.0" text-anchor="middle" font-weight="normal" font-style="normal" fill="#111" >Untreated</text>
<text x="121.30" y="455.30" font-size="8.0" text-anchor="middle" font-weight="normal" font-style="normal" fill="#111" >10&#8201;Gy</text>
<text x="173.70" y="455.30" font-size="8.0" text-anchor="middle" font-weight="normal" font-style="normal" fill="#111" >NanoOlaparib</text>
<text x="226.50" y="455.30" font-size="8.0" text-anchor="middle" font-weight="normal" font-style="normal" fill="#111" >NanoOlaparib</text>
<text x="227.90" y="465.20" font-size="8.0" text-anchor="middle" font-weight="normal" font-style="normal" fill="#111" >+ 10&#8201;Gy</text>
<text x="263.50" y="320.00" font-size="12.3" text-anchor="start" font-weight="bold" font-style="normal" fill="#000" >E</text>
<line x1="302.50" y1="442.30" x2="302.50" y2="315.80" stroke="#444" stroke-width="1"/>
<line x1="299.50" y1="442.50" x2="302.50" y2="442.50" stroke="#444" stroke-width="1"/>
<text x="294.20" y="445.30" font-size="8.4" text-anchor="end" font-weight="normal" font-style="normal" fill="#111" >0</text>
<line x1="299.50" y1="426.50" x2="302.50" y2="426.50" stroke="#444" stroke-width="1"/>
<text x="294.20" y="429.49" font-size="8.4" text-anchor="end" font-weight="normal" font-style="normal" fill="#111" >5</text>
<line x1="299.50" y1="410.50" x2="302.50" y2="410.50" stroke="#444" stroke-width="1"/>
<text x="294.20" y="413.68" font-size="8.4" text-anchor="end" font-weight="normal" font-style="normal" fill="#111" >10</text>
<line x1="299.50" y1="394.50" x2="302.50" y2="394.50" stroke="#444" stroke-width="1"/>
<text x="294.20" y="397.86" font-size="8.4" text-anchor="end" font-weight="normal" font-style="normal" fill="#111" >15</text>
<line x1="299.50" y1="379.50" x2="302.50" y2="379.50" stroke="#444" stroke-width="1"/>
<text x="294.20" y="382.05" font-size="8.4" text-anchor="end" font-weight="normal" font-style="normal" fill="#111" >20</text>
<line x1="299.50" y1="363.50" x2="302.50" y2="363.50" stroke="#444" stroke-width="1"/>
<text x="294.20" y="366.24" font-size="8.4" text-anchor="end" font-weight="normal" font-style="normal" fill="#111" >25</text>
<line x1="299.50" y1="347.50" x2="302.50" y2="347.50" stroke="#444" stroke-width="1"/>
<text x="294.20" y="350.43" font-size="8.4" text-anchor="end" font-weight="normal" font-style="normal" fill="#111" >30</text>
<line x1="299.50" y1="331.50" x2="302.50" y2="331.50" stroke="#444" stroke-width="1"/>
<text x="294.20" y="334.61" font-size="8.4" text-anchor="end" font-weight="normal" font-style="normal" fill="#111" >35</text>
<line x1="299.50" y1="315.50" x2="302.50" y2="315.50" stroke="#444" stroke-width="1"/>
<text x="294.20" y="318.80" font-size="8.4" text-anchor="end" font-weight="normal" font-style="normal" fill="#111" >40</text>
<line x1="302.50" y1="442.50" x2="513.80" y2="442.50" stroke="#444" stroke-width="1"/>
<line x1="355.50" y1="442.30" x2="355.50" y2="444.80" stroke="#444" stroke-width="1"/>
<line x1="408.50" y1="442.30" x2="408.50" y2="444.80" stroke="#444" stroke-width="1"/>
<line x1="460.50" y1="442.30" x2="460.50" y2="444.80" stroke="#444" stroke-width="1"/>
<line x1="513.50" y1="442.30" x2="513.50" y2="444.80" stroke="#444" stroke-width="1"/>
<text x="276.4" y="372.4" font-size="8.8" text-anchor="middle" fill="#111" transform="rotate(-90 276.4 372.4)">Body weight (g)</text>
<rect x="313.50" y="336.50" width="15" height="106.00" fill="#efefef" stroke="#262626" stroke-width="1.05"/>
<line x1="321.50" y1="335.09" x2="321.50" y2="338.25" stroke="#333" stroke-width="0.9"/>
<line x1="319.10" y1="335.50" x2="323.10" y2="335.50" stroke="#333" stroke-width="0.9"/>
<line x1="319.10" y1="338.50" x2="323.10" y2="338.50" stroke="#333" stroke-width="0.9"/>
<rect x="328.50" y="338.50" width="15" height="104.00" fill="#999999" stroke="#262626" stroke-width="1.05"/>
<line x1="336.50" y1="336.36" x2="336.50" y2="340.78" stroke="#333" stroke-width="0.9"/>
<line x1="334.10" y1="336.50" x2="338.10" y2="336.50" stroke="#333" stroke-width="0.9"/>
<line x1="334.10" y1="340.50" x2="338.10" y2="340.50" stroke="#333" stroke-width="0.9"/>
<rect x="367.50" y="337.50" width="15" height="105.00" fill="#c9dbf0" stroke="#262626" stroke-width="1.05"/>
<line x1="374.50" y1="335.41" x2="374.50" y2="340.47" stroke="#333" stroke-width="0.9"/>
<line x1="372.50" y1="335.50" x2="376.50" y2="335.50" stroke="#333" stroke-width="0.9"/>
<line x1="372.50" y1="340.50" x2="376.50" y2="340.50" stroke="#333" stroke-width="0.9"/>
<rect x="382.50" y="342.50" width="15" height="100.00" fill="#5497cc" stroke="#262626" stroke-width="1.05"/>
<line x1="389.50" y1="340.15" x2="389.50" y2="344.58" stroke="#333" stroke-width="0.9"/>
<line x1="387.50" y1="340.50" x2="391.50" y2="340.50" stroke="#333" stroke-width="0.9"/>
<line x1="387.50" y1="344.50" x2="391.50" y2="344.50" stroke="#333" stroke-width="0.9"/>
<rect x="420.50" y="328.50" width="15" height="114.00" fill="#dcefca" stroke="#262626" stroke-width="1.05"/>
<line x1="427.50" y1="324.34" x2="427.50" y2="332.56" stroke="#333" stroke-width="0.9"/>
<line x1="425.70" y1="324.50" x2="429.70" y2="324.50" stroke="#333" stroke-width="0.9"/>
<line x1="425.70" y1="332.50" x2="429.70" y2="332.50" stroke="#333" stroke-width="0.9"/>
<rect x="435.50" y="334.50" width="15" height="108.00" fill="#a8cd68" stroke="#262626" stroke-width="1.05"/>
<line x1="442.50" y1="330.98" x2="442.50" y2="338.57" stroke="#333" stroke-width="0.9"/>
<line x1="440.70" y1="330.50" x2="444.70" y2="330.50" stroke="#333" stroke-width="0.9"/>
<line x1="440.70" y1="338.50" x2="444.70" y2="338.50" stroke="#333" stroke-width="0.9"/>
<rect x="473.50" y="339.50" width="15" height="103.00" fill="#f2cbcb" stroke="#262626" stroke-width="1.05"/>
<line x1="481.50" y1="334.77" x2="481.50" y2="343.63" stroke="#333" stroke-width="0.9"/>
<line x1="479.10" y1="334.50" x2="483.10" y2="334.50" stroke="#333" stroke-width="0.9"/>
<line x1="479.10" y1="343.50" x2="483.10" y2="343.50" stroke="#333" stroke-width="0.9"/>
<rect x="488.50" y="342.50" width="15" height="100.00" fill="#d0604e" stroke="#262626" stroke-width="1.05"/>
<line x1="496.50" y1="338.25" x2="496.50" y2="347.74" stroke="#333" stroke-width="0.9"/>
<line x1="494.10" y1="338.50" x2="498.10" y2="338.50" stroke="#333" stroke-width="0.9"/>
<line x1="494.10" y1="347.50" x2="498.10" y2="347.50" stroke="#333" stroke-width="0.9"/>
<text x="328.60" y="455.30" font-size="8.0" text-anchor="middle" font-weight="normal" font-style="normal" fill="#111" >Untreated</text>
<text x="383.10" y="455.30" font-size="8.0" text-anchor="middle" font-weight="normal" font-style="normal" fill="#111" >10&#8201;Gy</text>
<text x="434.60" y="455.30" font-size="8.0" text-anchor="middle" font-weight="normal" font-style="normal" fill="#111" >NanoOlaparib</text>
<text x="486.40" y="455.30" font-size="8.0" text-anchor="middle" font-weight="normal" font-style="normal" fill="#111" >NanoOlaparib</text>
<text x="488.40" y="465.60" font-size="8.0" text-anchor="middle" font-weight="normal" font-style="normal" fill="#111" >+ 10&#8201;Gy</text>
<rect x="367.0" y="466.3" width="10.5" height="3" fill="#c8c8c8"/>
<text x="382.40" y="471.60" font-size="8.6" text-anchor="start" font-weight="normal" font-style="normal" fill="#111" >Initial</text>
<rect x="408.6" y="466.5" width="11.4" height="3" fill="#666"/>
<text x="423.00" y="471.60" font-size="8.6" text-anchor="start" font-weight="normal" font-style="normal" fill="#111" >Final</text>
</svg></body></html>
